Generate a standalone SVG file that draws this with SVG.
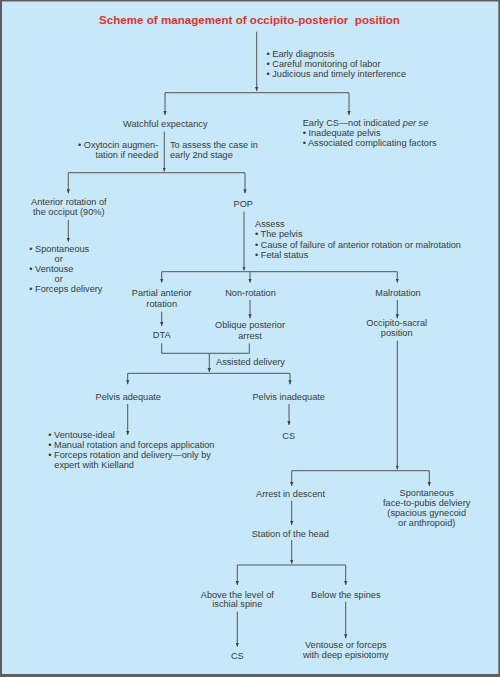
<svg xmlns="http://www.w3.org/2000/svg" width="500" height="677" viewBox="0 0 500 677">
<defs>
<style>
text{font-family:"Liberation Sans",Arial,sans-serif;font-size:9.2px;fill:#3a3a3a}
.c{text-anchor:middle}
.r{text-anchor:end}
.title{font-size:11.6px;font-weight:bold;fill:#e8302a}
.ln{fill:none;stroke:#555;stroke-width:1}
.ar{fill:none;stroke:#555;stroke-width:1;marker-end:url(#ah)}
</style>
<marker id="ah" markerUnits="userSpaceOnUse" markerWidth="4" markerHeight="4" refX="4" refY="2" orient="auto">
<path d="M0,0.3 L4,2 L0,3.7 z" fill="#444"/>
</marker>
</defs>
<rect x="0" y="0" width="500" height="677" fill="#5e5e60"/>
<rect x="2" y="1.5" width="496.3" height="672.5" fill="#c6e8f8"/>

<g id="connectors">
<path class="ar" d="M256.7,31.7 V91"/>
<path class="ln" d="M165,92.7 H349"/>
<path class="ar" d="M165,92.7 V115"/>
<path class="ar" d="M349,92.7 V115"/>
<path class="ar" d="M164.3,131.7 V171.5"/>
<path class="ln" d="M68.3,172.7 H245"/>
<path class="ar" d="M68.3,172.7 V193.3"/>
<path class="ar" d="M245,172.7 V193.3"/>
<path class="ar" d="M68.3,220 V241.7"/>
<path class="ar" d="M244,211.7 V270.5"/>
<path class="ln" d="M161.7,271.7 H397.3"/>
<path class="ar" d="M161.7,271.7 V282.7"/>
<path class="ar" d="M250,271.7 V282.7"/>
<path class="ar" d="M397.3,271.7 V282.7"/>
<path class="ar" d="M161.7,311.7 V326"/>
<path class="ar" d="M250,300 V318.3"/>
<path class="ar" d="M397.3,300 V318.3"/>
<path class="ln" d="M161.7,343.3 V353.3 H249.3 V343.3"/>
<path class="ar" d="M209.3,353.3 V372"/>
<path class="ln" d="M127.7,373.3 H290"/>
<path class="ar" d="M127.7,373.3 V384.3"/>
<path class="ar" d="M290,373.3 V384.3"/>
<path class="ar" d="M127.7,404 V435"/>
<path class="ar" d="M289,404 V425"/>
<path class="ar" d="M397.3,340.7 V469.5"/>
<path class="ln" d="M291.7,470.7 H429.3"/>
<path class="ar" d="M291.7,470.7 V486"/>
<path class="ar" d="M429.3,470.7 V486"/>
<path class="ar" d="M291.7,500.7 V525"/>
<path class="ar" d="M291.7,540 V563.8"/>
<path class="ln" d="M237.3,565 H345.7"/>
<path class="ar" d="M237.3,565 V585"/>
<path class="ar" d="M345.7,565 V585"/>
<path class="ar" d="M237.3,611.7 V646.7"/>
<path class="ar" d="M345.7,601.7 V638.3"/>
</g>

<g id="title"><text class="title c" x="249.5" y="24" xml:space="preserve">Scheme of management of occipito-posterior  position</text></g>

<g id="early-measures">
<text x="266.5" y="56.7">• Early diagnosis</text>
<text x="266.5" y="66.5">• Careful monitoring of labor</text>
<text x="266.5" y="76.5">• Judicious and timely interference</text>
</g>

<g id="watchful"><text class="c" x="165.3" y="127.3">Watchful expectancy</text></g>

<g id="early-cs">
<text x="302.7" y="125.5">Early CS—not indicated <tspan font-style="italic">per se</tspan></text>
<text x="302.7" y="135.5">• Inadequate pelvis</text>
<text x="302.7" y="145.8">• Associated complicating factors</text>
</g>

<g id="watchful-labels">
<text class="r" x="158.3" y="147.7">• Oxytocin augmen-</text>
<text class="r" x="158.3" y="157.7">tation if needed</text>
<text x="170" y="147.7">To assess the case in</text>
<text x="170" y="157.7">early 2nd stage</text>
</g>

<g id="anterior-rotation">
<text class="c" x="68.8" y="205">Anterior rotation of</text>
<text class="c" x="68.8" y="215">the occiput (90%)</text>
</g>

<g id="delivery-options">
<text x="29.3" y="251.7">• Spontaneous</text>
<text class="c" x="58.7" y="261.8">or</text>
<text x="29.3" y="271.9">• Ventouse</text>
<text class="c" x="58.7" y="282">or</text>
<text x="29.3" y="292.4">• Forceps delivery</text>
</g>

<g id="pop"><text class="c" x="243.3" y="206.7">POP</text></g>

<g id="assess">
<text x="255" y="226.7">Assess</text>
<text x="255" y="236.9">• The pelvis</text>
<text x="255" y="247.5">• Cause of failure of anterior rotation or malrotation</text>
<text x="255" y="258">• Fetal status</text>
</g>

<g id="partial-anterior">
<text class="c" x="161.7" y="296">Partial anterior</text>
<text class="c" x="161.7" y="306.7">rotation</text>
</g>
<g id="non-rotation"><text class="c" x="250.5" y="296">Non-rotation</text></g>
<g id="malrotation"><text class="c" x="398" y="296">Malrotation</text></g>

<g id="dta"><text class="c" x="161.7" y="338.3">DTA</text></g>
<g id="oblique-arrest">
<text class="c" x="250" y="328.3">Oblique posterior</text>
<text class="c" x="250" y="339">arrest</text>
</g>
<g id="occipito-sacral">
<text class="c" x="396.7" y="325.7">Occipito-sacral</text>
<text class="c" x="396.7" y="335.7">position</text>
</g>

<g id="assisted-delivery"><text x="216" y="365">Assisted delivery</text></g>

<g id="pelvis-adequate"><text class="c" x="128.3" y="400">Pelvis adequate</text></g>
<g id="pelvis-inadequate"><text class="c" x="288.7" y="400">Pelvis inadequate</text></g>

<g id="adequate-options">
<text x="48.3" y="437.7">• Ventouse-ideal</text>
<text x="48.3" y="448.1">• Manual rotation and forceps application</text>
<text x="48.3" y="458.3">• Forceps rotation and delivery—only by</text>
<text x="54.3" y="468">expert with Kielland</text>
</g>

<g id="cs-inadequate"><text class="c" x="288.7" y="439">CS</text></g>

<g id="arrest-descent"><text class="c" x="290.5" y="497.3">Arrest in descent</text></g>

<g id="spontaneous-ftp">
<text class="c" x="426.7" y="495.7">Spontaneous</text>
<text class="c" x="426.7" y="506">face-to-pubis delviery</text>
<text class="c" x="426.7" y="516">(spacious gynecoid</text>
<text class="c" x="426.7" y="526">or anthropoid)</text>
</g>

<g id="station"><text class="c" x="290.3" y="536.7">Station of the head</text></g>

<g id="above-spine">
<text class="c" x="237.3" y="597.7">Above the level of</text>
<text class="c" x="237.3" y="607.4">ischial spine</text>
</g>
<g id="below-spines"><text class="c" x="345.8" y="597.7">Below the spines</text></g>

<g id="cs-final"><text class="c" x="237.3" y="659.3">CS</text></g>
<g id="ventouse-forceps">
<text class="c" x="345.8" y="648.3">Ventouse or forceps</text>
<text class="c" x="345.8" y="658.3">with deep episiotomy</text>
</g>
</svg>
